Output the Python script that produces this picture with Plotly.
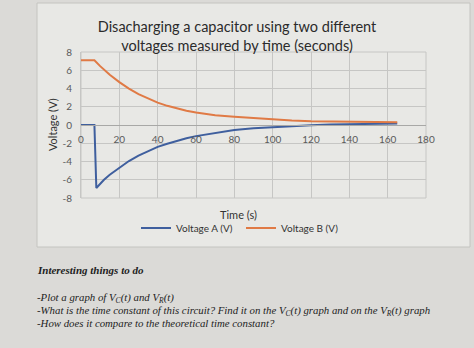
import plotly.graph_objects as go

# ---------------- data ----------------
time_a = [0, 2, 4, 6, 7, 8, 10, 12, 15, 20, 25, 30, 35, 40, 45, 50, 55, 60,
          70, 80, 90, 100, 110, 120, 130, 140, 150, 160, 165]
voltage_a = [0, 0, 0, 0, 0, -6.9, -6.45, -6.0, -5.45, -4.65, -3.95, -3.35, -2.85,
             -2.4, -2.05, -1.72, -1.45, -1.22, -0.85, -0.56, -0.36, -0.22, -0.1,
             -0.02, 0.05, 0.1, 0.13, 0.15, 0.16]

time_b = [0, 2, 4, 6, 7, 10, 12, 15, 20, 25, 30, 35, 40, 45, 50, 55, 60,
          70, 80, 90, 100, 110, 120, 130, 140, 150, 160, 165]
voltage_b = [7.1, 7.1, 7.1, 7.1, 7.1, 6.45, 6.05, 5.5, 4.7, 3.98, 3.38, 2.88, 2.45,
             2.1, 1.8, 1.56, 1.36, 1.08, 0.9, 0.74, 0.6, 0.5, 0.42, 0.38,
             0.35, 0.33, 0.32, 0.31]

x_ticks = [0, 20, 40, 60, 80, 100, 120, 140, 160, 180]
y_ticks = [-8, -6, -4, -2, 0, 2, 4, 6, 8]

title_text = "Disacharging a capacitor using two different<br>voltages measured by time (seconds)"
x_title = "Time (s)"
y_title = "Voltage (V)"
series_names = ["Voltage A (V)", "Voltage B (V)"]

notes_heading = "Interesting things to do"
notes_lines = [
    "-Plot a graph of V<sub>C</sub>(t) and V<sub>R</sub>(t)",
    "-What is the time constant of this circuit? Find it on the V<sub>C</sub>(t) graph and on the V<sub>R</sub>(t) graph",
    "-How does it compare to the theoretical time constant?",
]

# ---------------- layout helpers ----------------
W, H = 474, 348
L, R, T, B = 81, 48, 52, 150
PW, PH = W - L - R, H - T - B


def px(x):
    return (x - L) / PW


def py(y):
    return (H - B - y) / PH


BLUE = "#3f5f9e"
ORANGE = "#e07a45"
GRID = "#c6c6c4"
SANS = "Lato, 'Open Sans', sans-serif"
SERIF = "'Liberation Serif', 'DejaVu Serif', serif"

fig = go.Figure()
fig.add_trace(go.Scatter(x=time_a, y=voltage_a, mode="lines", name=series_names[0],
                         line=dict(color=BLUE, width=2)))
fig.add_trace(go.Scatter(x=time_b, y=voltage_b, mode="lines", name=series_names[1],
                         line=dict(color=ORANGE, width=2)))

shapes = [
    # chart box
    dict(type="rect", xref="paper", yref="paper", x0=px(37), x1=px(470), y0=py(247), y1=py(3),
         fillcolor="#e8e8e5", line=dict(color="#c4c4c0", width=1), layer="below"),
    # plot area border
    dict(type="rect", xref="paper", yref="paper", x0=0, x1=1, y0=0, y1=1,
         fillcolor="rgba(0,0,0,0)", line=dict(color=GRID, width=1), layer="below"),
]

annotations = [
    dict(text=y_title, xref="paper", yref="paper", x=px(52), y=py(125), showarrow=False,
         textangle=-90, font=dict(family=SANS, size=11, color="#333333"), xanchor="center", yanchor="middle"),
    dict(text=x_title, xref="paper", yref="paper", x=px(238), y=py(214), showarrow=False,
         font=dict(family=SANS, size=11, color="#333333"), xanchor="center", yanchor="middle"),
    dict(text="<b><i>" + notes_heading + "</i></b>", xref="paper", yref="paper", x=px(35), y=py(270),
         showarrow=False, font=dict(family=SERIF, size=11, color="#222222"), xanchor="left", yanchor="middle"),
]
for i, line in enumerate(notes_lines):
    annotations.append(dict(text="<i>" + line + "</i>", xref="paper", yref="paper", x=px(35),
                            y=py(298 + 12.5 * i), showarrow=False,
                            font=dict(family=SERIF, size=10.8, color="#222222"),
                            xanchor="left", yanchor="middle"))

fig.update_layout(
    width=W, height=H,
    margin=dict(l=L, r=R, t=T, b=B, pad=0),
    paper_bgcolor="#dbdad7",
    plot_bgcolor="rgba(0,0,0,0)",
    title=dict(text=title_text, xref="container", yref="container", x=237 / W, y=1 - 32 / H,
               xanchor="center", yanchor="middle",
               font=dict(family=SANS, size=14.5, color="#2b2b2b")),
    showlegend=True,
    legend=dict(orientation="h", xref="paper", yref="paper", x=px(241), y=py(228),
                xanchor="center", yanchor="middle", bgcolor="rgba(0,0,0,0)",
                font=dict(family=SANS, size=10, color="#333333"), itemwidth=30,
                entrywidth=60, tracegroupgap=0),
    shapes=shapes,
    annotations=annotations,
    xaxis=dict(range=[0, 180], tickvals=x_ticks, ticktext=[str(v) for v in x_ticks],
               showgrid=True, gridcolor=GRID, gridwidth=1, zeroline=False,
               showline=True, linecolor="#a8a8a6", linewidth=1,
               anchor="free", position=0.5, ticks="", ticklabelstandoff=5,
               tickfont=dict(family=SANS, size=10, color="#5a5a5a")),
    yaxis=dict(range=[-8, 8], tickvals=y_ticks, ticktext=[str(v) for v in y_ticks],
               showgrid=True, gridcolor=GRID, gridwidth=1, zeroline=False,
               showline=True, linecolor=GRID, linewidth=1, ticks="", ticklabelstandoff=6,
               tickfont=dict(family=SANS, size=10, color="#5a5a5a")),
)

fig.write_html("out.html")
